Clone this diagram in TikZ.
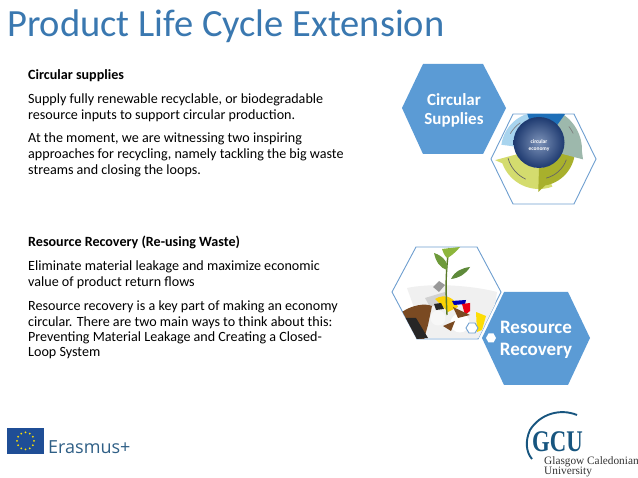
\documentclass[tikz,border=0pt]{standalone}
\usepackage{fontspec}
\usepackage{graphicx}
\usetikzlibrary{calc}
\setmainfont{Carlito}
\newfontfamily\gcufont{Liberation Serif}
\newfontfamily\erasfont{Open Sans}
\definecolor{titleblue}{HTML}{3A78B0}
\definecolor{hexblue}{HTML}{5B9BD5}
\definecolor{hexline}{HTML}{6F9FD0}
\definecolor{gcublue}{HTML}{17557F}
\definecolor{euflag}{HTML}{1F4E96}
\definecolor{erasblue}{HTML}{2F5F86}
\definecolor{ringlight}{HTML}{A8D4EE}
\definecolor{ringyellow}{HTML}{D4DC6E}
\definecolor{ringolive}{HTML}{A8B02C}
\definecolor{ringgrey}{HTML}{9DB8AC}
\definecolor{ringblue}{HTML}{1E6FB8}
\definecolor{discin}{HTML}{7C92B8}
\definecolor{discout}{HTML}{1E3A70}
\definecolor{leafa}{HTML}{8DB63C}
\definecolor{leafb}{HTML}{6E9A3A}
\definecolor{leafc}{HTML}{5E8A3A}
\definecolor{stem}{HTML}{5A7A2A}
\definecolor{soil}{HTML}{7A4A22}
\tikzset{
  x=1pt,y=-1pt,
  bodytext/.style={anchor=base west,inner sep=0pt,font=\fontsize{14.1}{16}\selectfont,text=black},
  headtext/.style={bodytext,font=\fontsize{14.1}{16}\selectfont\bfseries},
  hexfill/.style={fill=hexblue,draw=none},
  hexout/.style={draw=hexline,line width=0.9pt,fill=white},
  hexlabel/.style={align=center,text=white,font=\bfseries,inner sep=0pt},
  arclabel/.style={draw=#1,line width=0.7pt,line cap=round},
}
% start, end, colour, tip angle, tip radius, shoulder angle, outer radius
\newcommand{\ringseg}[7]{%
  \fill[#3] (#1:18) arc[start angle=#1,end angle=#2,radius=18] -- (#4:#5) -- (#6:#7)
    arc[start angle=#6,end angle=#1,radius=#7] -- cycle;}
\begin{document}
\begin{tikzpicture}
\useasboundingbox (0,0) rectangle (638,478);
\fill[white] (0,0) rectangle (638,478);

\node[anchor=base west,inner sep=0pt,text=titleblue,font=\fontsize{38.5}{40}\selectfont] (title) at (7,37) {Product Life Cycle Extension};

\node[headtext] (h1) at (28,80) {Circular supplies};
\node[bodytext] (a1) at (28,104) {Supply fully renewable recyclable, or biodegradable};
\node[bodytext] (a2) at (28,120) {resource inputs to support circular production.};
\node[bodytext] (a3) at (28,143) {At the moment, we are witnessing two inspiring};
\node[bodytext] (a4) at (28,159) {approaches for recycling, namely tackling the big waste};
\node[bodytext] (a5) at (28,175) {streams and closing the loops.};

\node[headtext] (h2) at (28,247) {Resource Recovery (Re-using Waste)};
\node[bodytext] (b1) at (28,271) {Eliminate material leakage and maximize economic};
\node[bodytext] (b2) at (28,287) {value of product return flows};
\node[bodytext] (b3) at (28,311) {Resource recovery is a key part of making an economy};
\node[bodytext] (b4) at (28,327) {circular. There are two main ways to think about this:};
\node[bodytext] (b5) at (28,342) {Preventing Material Leakage and Creating a Closed-};
\node[bodytext] (b6) at (28,357) {Loop System};

% outlined hexagon, circular economy
\draw[hexout] (491,159) -- (513,114) -- (574,114) -- (596,159) -- (574,204) -- (513,204) -- cycle;
\begin{scope}
  \clip (491,159) -- (513,114) -- (574,114) -- (596,159) -- (574,204) -- (513,204) -- cycle;
  \begin{scope}[shift={(539,150)},yscale=-1]
    \ringseg{172}{85}{ringlight}{85}{38}{85}{38}
    \ringseg{290}{190}{ringyellow}{193}{45}{200}{39}
    \ringseg{10}{-90}{ringolive}{-91}{42}{-80}{36}
    \ringseg{62}{-8}{ringgrey}{-12}{45}{-2}{43}
    \ringseg{108}{54}{ringblue}{54}{44}{54}{44}
    \draw[arclabel=black!50] (150:33) arc[start angle=150,end angle=125,radius=33];
    \draw[arclabel=black!50] (38:38) arc[start angle=38,end angle=26,radius=38];
    \draw[arclabel=black!60] (-20:29) arc[start angle=-20,end angle=-75,radius=29];
    \draw[arclabel=black!60] (-115:32) arc[start angle=-115,end angle=-165,radius=32];
  \end{scope}
  \shade[inner color=discin,outer color=discout] (539,142.5) circle[radius=25.5];
\end{scope}
\node[align=center,text=white,inner sep=0pt,font=\fontsize{5.5}{7}\selectfont\bfseries] (ce) at (539,146) {circular\\economy};

% filled hexagon, circular supplies
\fill[hexfill] (402,108) -- (423,64) -- (483,64) -- (506,108) -- (483,154) -- (423,154) -- cycle;
\node[hexlabel,font=\fontsize{17}{19}\selectfont\bfseries] (cs) at (454,110) {Circular\\Supplies};

% outlined hexagon, plant and waste
\draw[hexout] (392,292) -- (416,247) -- (477,247) -- (501,292) -- (478,339) -- (417,339) -- cycle;
\begin{scope}
  \clip (392,292) -- (416,247) -- (477,247) -- (501,292) -- (478,339) -- (417,339) -- cycle;
  \fill[black!6] (407,288) .. controls (430,283) and (470,285) .. (497,292) -- (490,338) -- (425,338) -- cycle;
  \fill[black!40] (433,287) -- (439,281) -- (445,285) -- (439,292) -- cycle;
  \fill[black!18] (425,298) -- (445,292) -- (450,300) -- (430,307) -- cycle;
  \fill[soil] (402,312) .. controls (412,305) and (425,303) .. (432,306) -- (428,325) -- (424,339) -- (414,339) -- cycle;
  \fill[black!85] (404,318) -- (416,318) -- (428,338) -- (416,339) -- cycle;
  \fill[yellow!70!orange] (435,299) .. controls (445,293) and (455,298) .. (458,307) -- (448,312) -- cycle;
  \fill[black!85] (434,304) -- (441,303) -- (444,309) -- (436,310) -- cycle;
  \fill[blue!70!black] (452,301) -- (466,300) -- (465,304) -- (454,305) -- cycle;
  \fill[red!70!purple] (462,304) -- (470,303) -- (470,311) -- (465,315) -- cycle;
  \fill[yellow!80!orange] (476,312) -- (486,316) -- (482,330) -- (477,332) -- cycle;
  \fill[black!3] (438,318) circle[radius=7.5];
  \fill[white] (460,323) circle[radius=9.5];
  \fill[soil] (443,326) -- (455,321) -- (451,331) -- cycle;
  \fill[soil] (453,307) -- (470,315) -- (458,318) -- cycle;
  \draw[stem,line width=1.4pt] (447,315) .. controls (446,295) and (445,275) .. (449,248);
  \fill[leafb] (434,253) .. controls (444,256) and (449,264) .. (447,270) .. controls (440,268) and (436,262) .. (434,253) -- cycle;
  \fill[leafa] (442,249) -- (460,247) .. controls (455,253) and (450,257) .. (447,258) .. controls (444,255) and (443,252) .. (442,249) -- cycle;
  \fill[leafc] (451,279) .. controls (455,271) and (462,268) .. (470,267) .. controls (466,274) and (459,278) .. (451,279) -- cycle;
\end{scope}
\draw[hexline,line width=0.9pt,fill=white] (466,328) -- (469,323) -- (475,323) -- (478,328) -- (475,333) -- (469,333) -- cycle;

% filled hexagon, resource recovery
\fill[hexfill] (482,338) -- (504,292) -- (568,292) -- (590,338) -- (568,385) -- (504,385) -- cycle;
\node[hexlabel,font=\fontsize{19}{22}\selectfont\bfseries] (rr) at (536,340) {Resource\\Recovery};
\fill[white] (486,338) -- (488.5,333.5) -- (493.5,333.5) -- (496,338) -- (493.5,342.5) -- (488.5,342.5) -- cycle;

% Erasmus+ logo
\fill[euflag] (7,428) rectangle (44,454);
\foreach \a in {0,30,...,330}
  \fill[yellow!85!orange] ($(25.5,441)+(\a:8.5)$) circle[radius=1];
\node[anchor=base west,inner sep=0pt,text=erasblue,font=\erasfont\fontsize{18}{20}\selectfont] (er) at (48,454) {Erasmus+};

% GCU logo
\draw[gcublue,line width=1.9pt] (577,415) .. controls (560,408) and (540,414) .. (530,430) .. controls (525,441) and (526,452) .. (532,459);
\node[anchor=base west,inner sep=0pt,text=gcublue,font=\gcufont\fontsize{30}{30}\selectfont\bfseries] (gcu) at (532,452) {\scalebox{0.76}[1]{GCU}};
\node[anchor=base west,inner sep=0pt,text=black!80,font=\gcufont\fontsize{11.3}{12}\selectfont] (gl) at (544,465) {Glasgow Caledonian};
\node[anchor=base west,inner sep=0pt,text=black!80,font=\gcufont\fontsize{11.3}{12}\selectfont] (un) at (544,475) {University};
\end{tikzpicture}
\end{document}
